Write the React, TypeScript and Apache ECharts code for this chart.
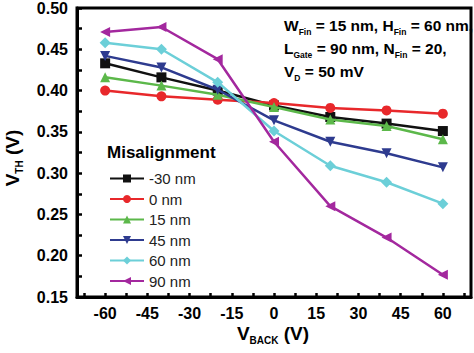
import React, { useEffect, useRef } from "react";
import * as echarts from "echarts";

const xValues = [-60, -40, -20, 0, 20, 40, 60];
const seriesNames = ["-30 nm", "0 nm", "15 nm", "45 nm", "60 nm", "90 nm"];
const vthM30 = [0.433, 0.416, 0.4, 0.382, 0.368, 0.36, 0.351];
const vth0 = [0.4, 0.393, 0.389, 0.385, 0.379, 0.376, 0.372];
const vth15 = [0.416, 0.406, 0.395, 0.38, 0.365, 0.357, 0.341];
const vth45 = [0.442, 0.428, 0.401, 0.364, 0.338, 0.324, 0.307];
const vth60 = [0.458, 0.45, 0.41, 0.351, 0.309, 0.289, 0.263];
const vth90 = [0.471, 0.477, 0.438, 0.338, 0.26, 0.222, 0.177];
const xTickLabels = [-60, -45, -30, -15, 0, 15, 30, 45, 60];
const xTickMarks = [-67.5, -60, -52.5, -45, -37.5, -30, -22.5, -15, -7.5, 0, 7.5, 15, 22.5, 30, 37.5, 45, 52.5, 60, 67.5];

const colors = ["#111111", "#e8282b", "#5cb84a", "#2e3b8f", "#6ccfd8", "#a3289e"];
const symbols = ["rect", "circle", "triangle", "triangle", "diamond", "triangle"];
const rotations = [0, 0, 0, 180, 0, 90];
const allSeries = [vthM30, vth0, vth15, vth45, vth60, vth90];

const FONT = "'Liberation Sans', Arial, sans-serif";

export default function App() {
  const ref = useRef<HTMLDivElement>(null);
  useEffect(() => {
    if (!ref.current) return;
    const chart = echarts.init(ref.current, null, { renderer: "svg" });
    const series = allSeries.map((vals, i) => ({
      name: seriesNames[i],
      type: "line",
      data: xValues.map((x, j) => [x, vals[j]]),
      symbol: symbols[i],
      symbolSize: i === 4 ? 11 : 10,
      symbolRotate: rotations[i],
      itemStyle: { color: colors[i] },
      lineStyle: { color: colors[i], width: 2.5 },
      z: 2 + i,
    }));
    const sub = { fontFamily: FONT, fontWeight: "bold", fontSize: 8.5, lineHeight: 8, verticalAlign: "bottom", color: "#000" };
    const main = { fontFamily: FONT, fontWeight: "bold", fontSize: 15.5, lineHeight: 23, color: "#000" };
    chart.setOption({
      animation: false,
      backgroundColor: "#fff",
      grid: { left: 77, right: 3, top: 7, bottom: 56, show: true, borderColor: "#000", borderWidth: 3, containLabel: false },
      xAxis: {
        type: "value",
        min: -70,
        max: 70,
        axisLine: { onZero: false, lineStyle: { color: "#000", width: 3 } },
        axisTick: { inside: true, length: 4, customValues: xTickMarks, lineStyle: { color: "#000", width: 2.5 } },
        axisLabel: { customValues: xTickLabels, color: "#000", fontFamily: FONT, fontWeight: "bold", fontSize: 16, margin: 8 },
        splitLine: { show: false },
      },
      yAxis: {
        type: "value",
        min: 0.15,
        max: 0.5,
        interval: 0.05,
        axisLine: { show: true, onZero: false, lineStyle: { color: "#000", width: 3 } },
        axisTick: { show: true, inside: true, length: 5, lineStyle: { color: "#000", width: 2.5 } },
        minorTick: { show: true, splitNumber: 2, length: 5, lineStyle: { color: "#000", width: 2.5 } },
        axisLabel: { color: "#000", fontFamily: FONT, fontWeight: "bold", fontSize: 16, margin: 9, formatter: (v: number) => v.toFixed(2) },
        splitLine: { show: false },
      },
      legend: {
        orient: "vertical",
        left: 104,
        top: 166,
        itemWidth: 34,
        itemHeight: 10,
        itemGap: 5.5,
        data: seriesNames,
        textStyle: { fontFamily: FONT, fontSize: 15, color: "#222", lineHeight: 12 },
      },
      graphic: [
        {
          type: "text",
          left: 107,
          top: 144,
          style: { text: "Misalignment", fontFamily: FONT, fontWeight: "bold", fontSize: 17, fill: "#000" },
        },
        {
          type: "text",
          left: 284,
          top: 17,
          style: {
            text: "{m|W}{s|Fin}{m| = 15 nm, H}{s|Fin}{m| = 60 nm,}\n{m|L}{s|Gate}{m| = 90 nm, N}{s|Fin}{m| = 20,}\n{m|V}{s|D}{m| = 50 mV}",
            rich: { m: main, s: sub },
            fill: "#000",
          },
        },
        {
          type: "text",
          x: 12,
          y: 158,
          rotation: Math.PI / 2,
          style: {
            text: "{m|V}{s|TH}{m| (V)}",
            align: "center",
            verticalAlign: "middle",
            rich: {
              m: { fontFamily: FONT, fontWeight: "bold", fontSize: 19, lineHeight: 24, color: "#000" },
              s: { fontFamily: FONT, fontWeight: "bold", fontSize: 10, lineHeight: 10, verticalAlign: "bottom", color: "#000" },
            },
          },
        },
        {
          type: "text",
          x: 273,
          y: 333,
          style: {
            text: "{m|V}{s|BACK}{m| (V)}",
            align: "center",
            verticalAlign: "middle",
            rich: {
              m: { fontFamily: FONT, fontWeight: "bold", fontSize: 19, lineHeight: 24, color: "#000" },
              s: { fontFamily: FONT, fontWeight: "bold", fontSize: 10, lineHeight: 10, verticalAlign: "bottom", color: "#000" },
            },
          },
        },
      ],
      series,
    });
    return () => chart.dispose();
  }, []);
  return <div ref={ref} style={{ width: 474, height: 353, position: "absolute", left: 0, top: 0 }} />;
}
